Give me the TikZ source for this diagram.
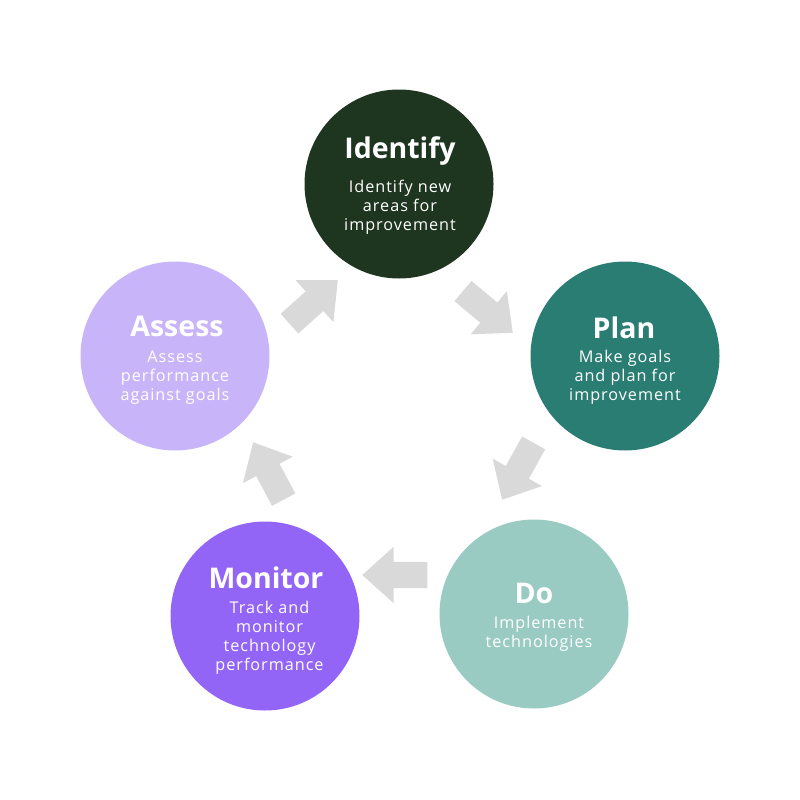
\documentclass[tikz,border=0pt]{standalone}
\usepackage{fontspec}
\setmainfont{Open Sans}
\usetikzlibrary{shapes.arrows}

\definecolor{identifycol}{HTML}{1E351F}
\definecolor{plancol}{HTML}{2A7D72}
\definecolor{docol}{HTML}{99CBC3}
\definecolor{monitorcol}{HTML}{9265F6}
\definecolor{assesscol}{HTML}{C8B5F9}
\definecolor{flowgray}{HTML}{D9D9D9}

\begin{document}
\begin{tikzpicture}[x=1pt, y=-1pt,
    every node/.style={text=white},
    stage/.style={circle, minimum size=189pt, inner sep=0pt},
    stagetitle/.style={anchor=base, inner sep=0pt, font=\fontsize{28.5}{34}\selectfont\bfseries},
    stagetext/.style={anchor=north, align=center, inner sep=0pt, font=\fontsize{16.2}{19}\selectfont\addfontfeatures{LetterSpace=6}},
    flow/.style={single arrow, fill=flowgray, anchor=tip, minimum height=65pt, inner xsep=0pt, inner ysep=13pt,
      single arrow head extend=15pt, single arrow tip angle=84}
  ]
  \useasboundingbox (0,0) rectangle (800,800);

  % stages
  \node[stage, fill=identifycol] (identify) at (399,184) {};
  \node[stage, fill=plancol] (plan) at (625,356) {};
  \node[stage, fill=docol] (do) at (534,614) {};
  \node[stage, fill=monitorcol] (monitor) at (265,616) {};
  \node[stage, fill=assesscol] (assess) at (175,356) {};

  \node[stagetitle] (identifyT) at (400,158) {Identify};
  \node[stagetext] (identifyD) at (400,179.5) {Identify new\\areas for\\improvement};
  \node[stagetitle] (planT) at (624,338) {Plan};
  \node[stagetext] (planD) at (625,349.5) {Make goals\\and plan for\\improvement};
  \node[stagetitle] (doT) at (534,603) {Do};
  \node[stagetext] (doD) at (539,615.5) {Implement\\technologies};
  \node[stagetitle] (monitorT) at (266,588) {Monitor};
  \node[stagetext] (monitorD) at (269.5,600.5) {Track and\\monitor\\technology\\performance};
  \node[stagetitle] (assessT) at (177,336) {Assess};
  \node[stagetext] (assessD) at (175,351) {Assess\\performance\\against goals};

  % arrows between stages
  \foreach \tx/\ty/\ang [count=\i] in {338/280/42, 513/333/-40, 502/500/-119, 362/575/180, 253/442/118} {
    \node[flow, rotate=\ang] (flow\i) at (\tx,\ty) {};
  }
\end{tikzpicture}
\end{document}
